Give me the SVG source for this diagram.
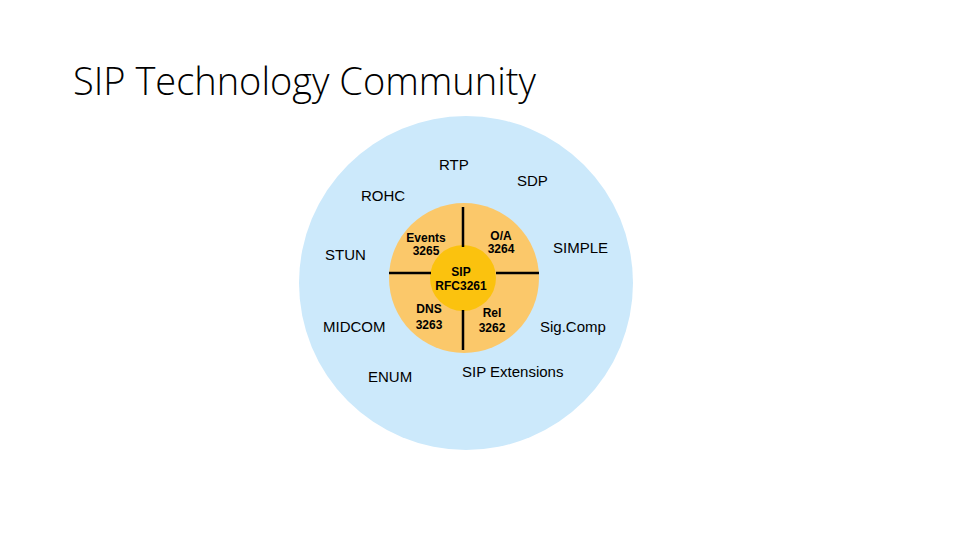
<svg xmlns="http://www.w3.org/2000/svg" width="960" height="540" viewBox="0 0 960 540">
<style>
text{font-family:"Liberation Sans",Arial,sans-serif;fill:#000}
.o{font-size:15px}
.i{font-size:12px;font-weight:bold;text-anchor:middle}
.l{stroke:#000;stroke-width:2.5}
</style>
<rect width="960" height="540" fill="#fff"/>
<text x="73" y="95" style="font-family:'Open Sans','Liberation Sans',sans-serif;font-size:38px;font-weight:300" fill="#222">SIP Technology Community</text>
<g id="outer"><circle cx="466" cy="283" r="167" fill="#cce9fb"/></g>
<g id="ring"><circle cx="464" cy="278" r="75" fill="#fbc86a"/></g>
<g id="core"><circle cx="463" cy="278" r="33" fill="#fbc20e"/></g>
<g id="connectors">
<line class="l" x1="463" y1="207" x2="463" y2="247"/>
<line class="l" x1="463" y1="310" x2="463" y2="350"/>
<line class="l" x1="389" y1="273" x2="431" y2="273"/>
<line class="l" x1="496" y1="273" x2="539" y2="273"/>
</g>
<g id="labels">
<text class="o" x="439" y="170">RTP</text>
<text class="o" x="517" y="186">SDP</text>
<text class="o" x="361" y="201">ROHC</text>
<text class="o" x="325" y="260">STUN</text>
<text class="o" x="553" y="253">SIMPLE</text>
<text class="o" x="323" y="332">MIDCOM</text>
<text class="o" x="540" y="332">Sig.Comp</text>
<text class="o" x="368" y="382">ENUM</text>
<text class="o" x="462" y="377">SIP Extensions</text>
</g>
<g id="inner">
<text class="i" x="426" y="242">Events</text><text class="i" x="426" y="255">3265</text>
<text class="i" x="501" y="240">O/A</text><text class="i" x="501" y="253">3264</text>
<text class="i" x="461" y="276">SIP</text><text class="i" x="461" y="290">RFC3261</text>
<text class="i" x="429" y="313">DNS</text><text class="i" x="429" y="329">3263</text>
<text class="i" x="492" y="317">Rel</text><text class="i" x="492" y="332">3262</text>
</g>
</svg>
